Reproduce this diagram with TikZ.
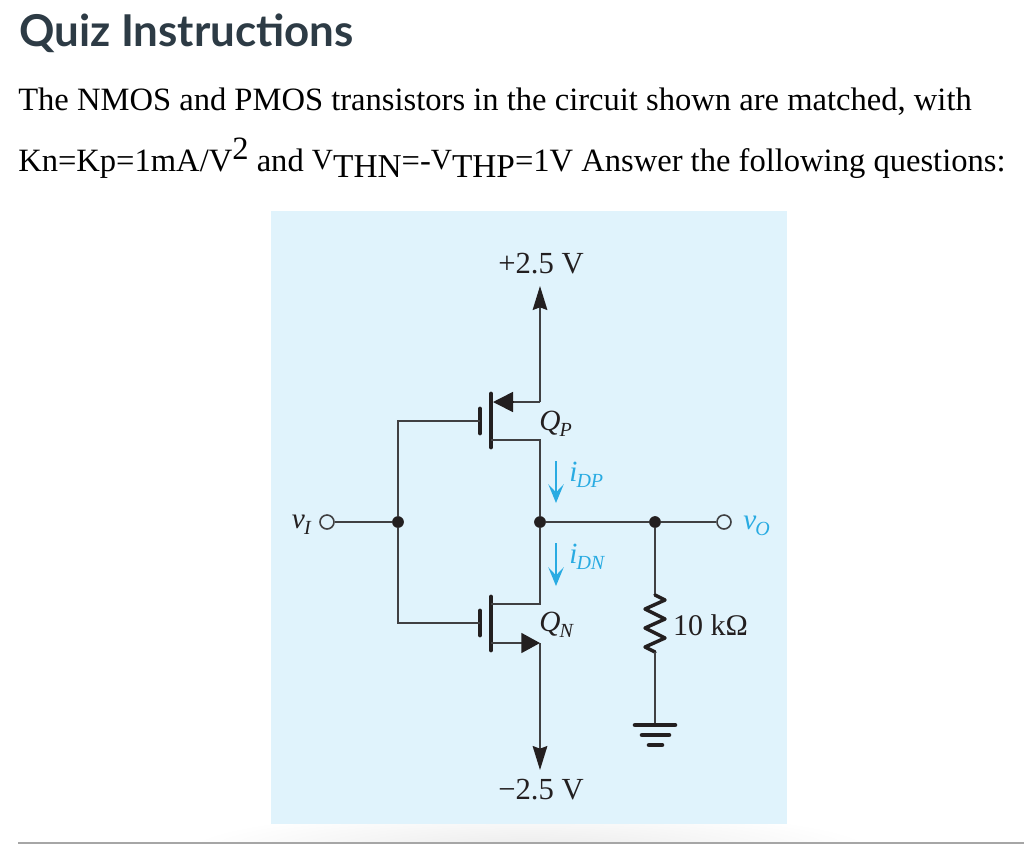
\documentclass[tikz,border=0pt]{standalone}
\usepackage{fontspec}
\usepackage{tikz}
\usetikzlibrary{arrows.meta}
\setmainfont{Liberation Serif}
\newfontfamily\headfont{Lato}
\definecolor{panel}{RGB}{224, 243, 252}
\definecolor{heading}{RGB}{45, 59, 69}
\definecolor{wirecolor}{RGB}{64, 64, 66}
\definecolor{current}{RGB}{41, 171, 226}
\definecolor{symbolink}{RGB}{35, 31, 32}
\newcommand{\sublabel}[2]{\textit{#1\kern-0.03em\raisebox{-0.22em}{\fontsize{15}{16}\selectfont #2}}}
\newcommand{\lowtext}[2]{\raisebox{1.5pt}{\fontsize{22}{24}\selectfont #1}\raisebox{-0.2em}{\fontsize{25}{27}\selectfont #2}}

\tikzset{
	wire/.style={wirecolor, line width=1.3pt},
	plate/.style={symbolink, line width=3.6pt, line cap=round},
	tip/.style={-{Stealth[inset=2pt,length=18pt,width=11pt,color=symbolink]}},
	flow/.style={current, line width=1.5pt, -{Stealth[inset=6pt,length=14pt,width=11.5pt]}},
	bodytext/.style={anchor=base west, inner sep=0pt, font=\fontsize{24.43}{26}\selectfont, text=black},
	circuittext/.style={inner sep=0pt, text=symbolink, font=\fontsize{22.5}{24}\selectfont},
	currenttext/.style={inner sep=0pt, anchor=west, text=current, font=\fontsize{22}{24}\selectfont},
	dot/.style={circle, fill=symbolink, inner sep=0pt, minimum size=8.8pt},
	terminal/.style={circle, draw=wirecolor, fill=panel, line width=1.2pt, inner sep=0pt, minimum size=10.5pt},
}

\begin{document}
\begin{tikzpicture}[x=0.75pt,y=-0.75pt]
	\useasboundingbox (0,0) rectangle (1024,844);

	% page
	\begin{scope}
		\clip (0,0) rectangle (1024,843);
		\shade[inner color=gray!16, outer color=white, draw=none] (530,850) ellipse (345 and 42);
	\end{scope}
	\fill[panel] (271,211) rectangle (787,824);
	\fill[gray!70] (18,842) rectangle (1024,844);

	% text
	\node[anchor=base west, inner sep=0pt, text=heading, font=\headfont\bfseries\fontsize{32.9}{34}\selectfont] (title) at (19,46) {Quiz Instructions};
	\node[bodytext] (line1) at (18,110) {The NMOS and PMOS transistors in the circuit shown are matched, with};
	\node[bodytext] (line2) at (18,171) {Kn=Kp=1mA/V\raisebox{0.36em}{2} and \lowtext{V}{THN}=-\lowtext{V}{THP}=1V Answer the following questions:};

	% supplies and junctions
	\coordinate (vdd) at (540,286);
	\coordinate (vss) at (540,770);
	\node[dot] (in) at (398,522) {};
	\node[dot] (out) at (540,522) {};
	\node[dot] (load) at (655,522) {};
	\node[terminal] (vi) at (327,522) {};
	\node[terminal] (vo) at (724,522) {};

	% Q_P
	\coordinate (gp) at (480,421);
	\coordinate (gpl) at (398,421);
	\coordinate (sp) at (493,402);
	\coordinate (spb) at (513,402);
	\coordinate (spr) at (540,402);
	\coordinate (dp) at (491,440);
	\coordinate (dpr) at (540,440);
	\draw[plate] (480,409) -- (480,433);
	\draw[plate] (491,394) -- (491,447);
	\draw[wire] (in) -- (gpl) -- (gp);
	\draw[wire,tip] (spr) -- (vdd);
	\draw[wire] (spr) -- (spb);
	\draw[symbolink,-{Triangle[length=15pt,width=15pt]},line width=1.2pt] (spb) -- (sp);
	\draw[wire] (dp) -- (dpr) -- (out);

	% Q_N
	\coordinate (gn) at (480,623);
	\coordinate (gnl) at (398,623);
	\coordinate (sn) at (540,643);
	\coordinate (snb) at (522,643);
	\coordinate (snl) at (491,643);
	\coordinate (dn) at (491,604);
	\coordinate (dnr) at (540,604);
	\draw[plate] (480,611) -- (480,635);
	\draw[plate] (491,597) -- (491,650);
	\draw[wire] (in) -- (gnl) -- (gn);
	\draw[wire] (out) -- (dnr) -- (dn);
	\draw[wire] (snl) -- (snb);
	\draw[symbolink,-{Triangle[length=14pt,width=15pt]},line width=1.2pt] (snb) -- (sn);
	\draw[wire,tip] (sn) -- (vss);

	% input and output
	\draw[wire] (vi) -- (in);
	\draw[wire] (out) -- (load) -- (vo);

	% load
	\coordinate (rtop) at (655,595);
	\coordinate (rbot) at (655,652);
	\coordinate (gnd) at (655,725);
	\draw[wire] (load) -- (rtop);
	\draw[symbolink, line width=2.6pt, line join=round, line cap=round] (rtop) -- (665,600) -- (645,609) -- (665,619) -- (645,628) -- (665,638) -- (645,647) -- (rbot);
	\draw[wire] (rbot) -- (gnd);
	\draw[symbolink, line width=3.4pt, line cap=round] (635,725) -- (675,725);
	\draw[symbolink, line width=3.4pt, line cap=round] (642,735) -- (669,735);
	\draw[symbolink, line width=3.4pt, line cap=round] (649,745) -- (662,745);

	% currents
	\coordinate (idptop) at (556,461);
	\coordinate (idpend) at (556,503);
	\coordinate (idntop) at (556,543);
	\coordinate (idnend) at (556,586);
	\draw[flow] (idptop) -- (idpend);
	\draw[flow] (idntop) -- (idnend);
	\node[currenttext] (idp) at (569,475) {\sublabel{i}{DP}};
	\node[currenttext] (idn) at (569,557) {\sublabel{i}{DN}};

	% labels
	\node[circuittext, font=\fontsize{23}{24}\selectfont] (vddlabel) at (541,264) {+2.5 V};
	\node[circuittext, font=\fontsize{23}{24}\selectfont] (vsslabel) at (541,790) {−2.5 V};
	\node[circuittext] (rlabel) at (710.5,625) {10 kΩ};
	\node[circuittext, anchor=west, font=\fontsize{22}{24}\selectfont] (qp) at (539,424) {\sublabel{Q}{P}};
	\node[circuittext, anchor=west, font=\fontsize{22}{24}\selectfont] (qn) at (539,625) {\sublabel{Q}{N}};
	\node[circuittext, anchor=east, font=\fontsize{22}{24}\selectfont] (vilabel) at (311,525) {\sublabel{v}{I}};
	\node[currenttext] (volabel) at (743,526) {\sublabel{v}{O}};
\end{tikzpicture}
\end{document}
